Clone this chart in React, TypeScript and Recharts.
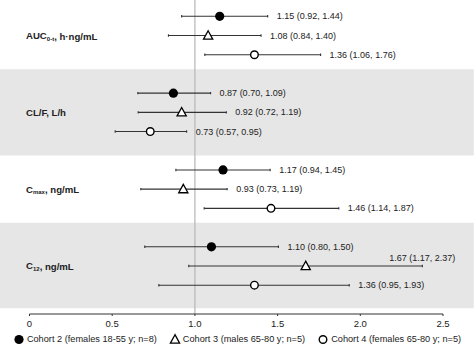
import React from "react"
import { ScatterChart, Scatter, XAxis, YAxis, ErrorBar, ReferenceArea, ReferenceLine, Legend } from "recharts"

// parameter names (main text, subscript, unit)
const paramNames = ["AUC", "CL/F, L/h", "C", "C"]
const paramSubs = ["0-t", "", "max", "12"]
const paramUnits = [", h·ng/mL", "", ", ng/mL", ", ng/mL"]

const cohortNames = [
  "Cohort 2 (females 18-55 y; n=8)",
  "Cohort 3 (males 65-80 y; n=5)",
  "Cohort 4 (females 65-80 y; n=5)",
]

// point estimates (AUC, CL/F, Cmax, C12)
const cohort2Est = [1.15, 0.87, 1.17, 1.1]
const cohort3Est = [1.08, 0.92, 0.93, 1.67]
const cohort4Est = [1.36, 0.73, 1.46, 1.36]

// whisker ends as drawn in the figure
const cohort2Lo = [0.92, 0.655, 0.885, 0.697]
const cohort3Lo = [0.84, 0.657, 0.673, 0.963]
const cohort4Lo = [1.06, 0.518, 1.056, 0.782]
const cohort2Hi = [1.44, 1.095, 1.455, 1.505]
const cohort3Hi = [1.4, 1.19, 1.195, 2.375]
const cohort4Hi = [1.76, 0.95, 1.87, 1.933]

// printed ratio (90% CI) labels
const cohort2Labels = ["1.15 (0.92, 1.44)", "0.87 (0.70, 1.09)", "1.17 (0.94, 1.45)", "1.10 (0.80, 1.50)"]
const cohort3Labels = ["1.08 (0.84, 1.40)", "0.92 (0.72, 1.19)", "0.93 (0.73, 1.19)", "1.67 (1.17, 2.37)"]
const cohort4Labels = ["1.36 (1.06, 1.76)", "0.73 (0.57, 0.95)", "1.46 (1.14, 1.87)", "1.36 (0.95, 1.93)"]

const xTicks = [0, 0.5, 1, 1.5, 2, 2.5]

const cohorts = [
  { est: cohort2Est, lo: cohort2Lo, hi: cohort2Hi, labels: cohort2Labels },
  { est: cohort3Est, lo: cohort3Lo, hi: cohort3Hi, labels: cohort3Labels },
  { est: cohort4Est, lo: cohort4Lo, hi: cohort4Hi, labels: cohort4Labels },
]

const rowPos = (g: number, c: number) => g * 4 + c + 1

const seriesData = cohorts.map((c, ci) =>
  c.est.map((v, g) => ({ x: v, y: rowPos(g, ci), err: [v - c.lo[g], c.hi[g] - v] }))
)
const labelData = cohorts.flatMap((c, ci) =>
  c.hi.map((h, g) => ({ x: h, y: rowPos(g, ci), text: c.labels[g] }))
)

const FONT = "'Liberation Sans', Arial, Helvetica, sans-serif"
const TXT = "#222"

function Marker({ kind, cx, cy }: { kind: number; cx: number; cy: number }) {
  if (kind === 0) return <circle cx={cx} cy={cy} r={4.6} fill="#000" />
  if (kind === 1)
    return (
      <polygon
        points={`${cx},${cy - 4.8} ${cx - 4.6},${cy + 3.6} ${cx + 4.6},${cy + 3.6}`}
        fill="#fff"
        stroke="#000"
        strokeWidth={1.3}
        strokeLinejoin="miter"
      />
    )
  return <circle cx={cx} cy={cy} r={3.8} fill="#fff" stroke="#000" strokeWidth={1.4} />
}

const ciLabel = (props: any) => {
  const { cx, cy, payload } = props
  // labels that would run off the right edge go above the whisker end
  const above = payload.x > 2.2
  return (
    <text
      x={above ? cx : cx + 9}
      y={above ? cy - 8 : cy}
      textAnchor={above ? "middle" : "start"}
      dominantBaseline="central"
      fontSize={9}
      fill={TXT}
      fontFamily={FONT}
    >
      {payload.text}
    </text>
  )
}

const paramTick = (props: any) => {
  const { y, payload } = props
  const g = Math.round((payload.value - 2) / 4)
  return (
    <text x={26} y={y} dominantBaseline="central" fontSize={9.6} fontWeight="bold" fill={TXT} fontFamily={FONT}>
      {paramNames[g]}
      {paramSubs[g] && (
        <tspan fontSize={6} dy={3}>
          {paramSubs[g]}
        </tspan>
      )}
      {paramUnits[g] && <tspan dy={paramSubs[g] ? -3 : 0}>{paramUnits[g]}</tspan>}
    </text>
  )
}

function LegendContent() {
  return (
    <div
      style={{
        display: "flex",
        justifyContent: "center",
        alignItems: "center",
        gap: 12,
        fontSize: 9.2,
        fontFamily: FONT,
        color: TXT,
        whiteSpace: "nowrap",
      }}
    >
      {cohortNames.map((name, i) => (
        <div key={name} style={{ display: "flex", alignItems: "center", gap: 2 }}>
          <svg width={12} height={12}>
            <Marker kind={i} cx={6} cy={6.5} />
          </svg>
          <span>{name}</span>
        </div>
      ))}
    </div>
  )
}

export default function App() {
  return (
    <div style={{ width: 474, height: 355 }}>
      <style>{`body{margin:0}`}</style>
      <ScatterChart
        width={474}
        height={355}
        margin={{ top: 0, right: 31, left: 28.5, bottom: 2 }}
        style={{ fontFamily: FONT }}
      >
        <ReferenceArea x1={-0.1786} x2={2.686} y1={3.75} y2={8.25} ifOverflow="visible" fill="#e6e6e6" fillOpacity={1} stroke="none" />
        <ReferenceArea x1={-0.1786} x2={2.686} y1={11.75} y2={16.2} ifOverflow="visible" fill="#e6e6e6" fillOpacity={1} stroke="none" />
        <ReferenceLine x={1} stroke="#b5b5b5" strokeWidth={1.2} />
        <XAxis
          type="number"
          dataKey="x"
          domain={[0, 2.5]}
          ticks={xTicks}
          tickFormatter={(v) => (v === 0 ? "0" : v.toFixed(1))}
          height={19}
          tickSize={2}
          tickMargin={4}
          axisLine={{ stroke: "#333" }}
          tickLine={{ stroke: "#333" }}
          tick={{ fontSize: 9.5, fill: TXT }}
        />
        <YAxis
          type="number"
          dataKey="y"
          domain={[0.15, 16.5]}
          reversed
          width={1}
          ticks={[2, 6, 10, 14]}
          interval={0}
          axisLine={false}
          tickLine={false}
          tick={paramTick}
        />
        {seriesData.map((d, i) => (
          <Scatter
            key={i}
            name={cohortNames[i]}
            data={d}
            isAnimationActive={false}
            shape={(p: any) => <Marker kind={i} cx={p.cx} cy={p.cy} />}
          >
            <ErrorBar dataKey="err" direction="x" width={1.2} stroke="#333" strokeWidth={1.1} isAnimationActive={false} />
          </Scatter>
        ))}
        <Scatter data={labelData} isAnimationActive={false} shape={ciLabel} legendType="none" />
        <Legend verticalAlign="bottom" height={20} wrapperStyle={{ left: 0, width: 474 }} content={<LegendContent />} />
      </ScatterChart>
    </div>
  )
}
